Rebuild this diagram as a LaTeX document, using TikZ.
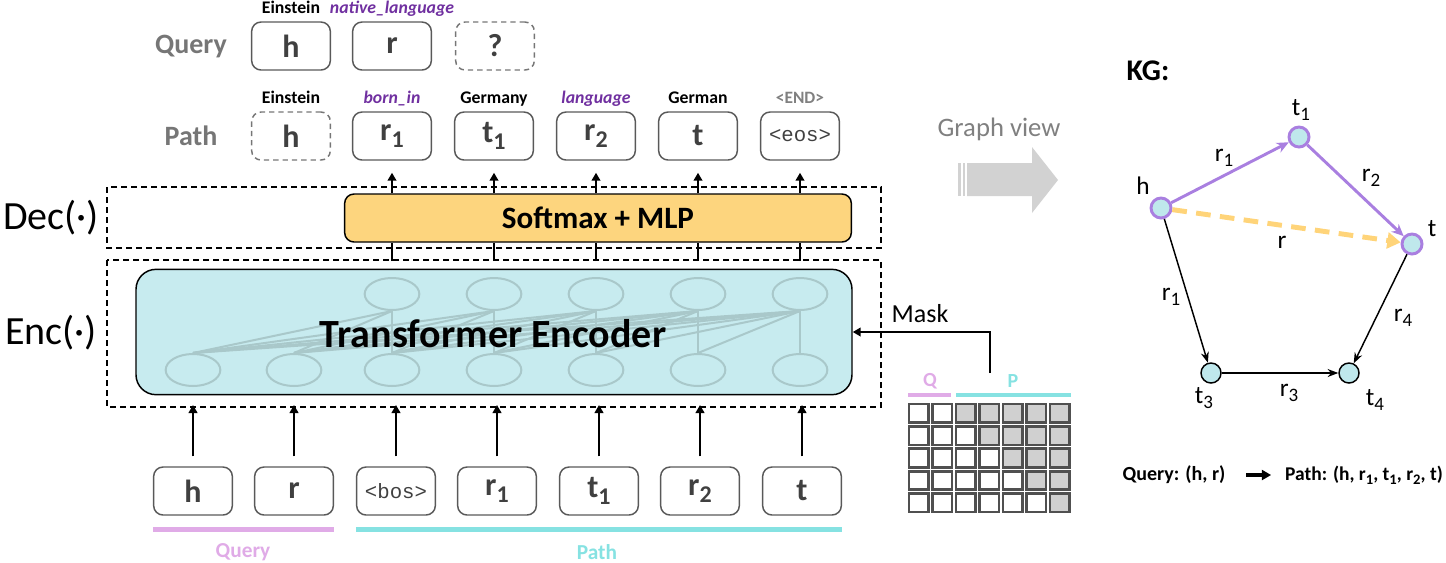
\documentclass[tikz,border=0pt]{standalone}
\usepackage{fontspec}
\setmainfont{Carlito}
\newfontfamily\codefont{Liberation Mono}
\usepackage{graphicx}
\usetikzlibrary{arrows.meta,shapes.geometric}

\definecolor{boxline}{HTML}{595959}
\definecolor{tokgray}{HTML}{404040}
\definecolor{lblgray}{HTML}{767676}
\definecolor{relpurple}{HTML}{7030A0}
\definecolor{softfill}{HTML}{FDD57E}
\definecolor{encfill}{HTML}{C7EBEF}
\definecolor{ellgray}{HTML}{A9C8CA}
\definecolor{qpink}{HTML}{E0ABE7}
\definecolor{pcyan}{HTML}{86E2E2}
\definecolor{cellgray}{HTML}{D0D0D0}
\definecolor{celledge}{HTML}{505050}
\definecolor{viewgray}{HTML}{D2D2D2}
\definecolor{viewtext}{HTML}{808080}
\definecolor{kgpurple}{HTML}{A97FE0}
\definecolor{kgorange}{HTML}{FFD479}
\definecolor{kgfill}{HTML}{BFE8EC}

\newcommand{\setfs}[1]{\fontsize{#1}{#1}\selectfont}
\newcommand{\lowidx}[1]{\raisebox{-0.45ex}{\scalebox{0.75}{#1}}}

\tikzset{
    tok/.style={draw=boxline, line width=1.1pt, rounded corners=7pt,
        minimum width=59pt, minimum height=36pt, inner sep=0pt,
        text=tokgray, font=\setfs{24}\bfseries},
    tokdash/.style={tok, draw=lblgray, dash pattern=on 4pt off 3pt},
    codetok/.style={tok, font=\setfs{15.5}\codefont},
    sidelbl/.style={text=lblgray, font=\setfs{21}\bfseries},
    ent/.style={anchor=base, font=\setfs{13.3}\bfseries},
    rel/.style={anchor=base, text=relpurple, font=\setfs{13.3}\bfseries\itshape},
    dashbox/.style={line width=1.1pt, dash pattern=on 4.5pt off 3pt},
    arr/.style={line width=2.2pt, -{Triangle[length=6pt,width=6.5pt]}},
    attn/.style={draw=ellgray, line width=1.5pt},
    unit/.style={ellipse, draw=ellgray, line width=1.5pt, minimum width=41pt,
        minimum height=24pt, inner sep=0pt},
    bar/.style={line width=3.5pt},
    cell/.style={draw=celledge, line width=2pt},
    kgnode/.style={circle, draw=black, line width=1.1pt, fill=kgfill,
        minimum size=15pt, inner sep=0pt},
    kgpathnode/.style={kgnode, draw=kgpurple, line width=2.2pt},
    kgtxt/.style={font=\setfs{19}},
    kgpath/.style={draw=kgpurple, line width=2.2pt, -{Stealth[length=9pt,width=8pt]}},
    kgedge/.style={line width=1.1pt, -{Stealth[length=8pt,width=6pt]}}
}

\begin{document}
\begin{tikzpicture}[x=0.75pt, y=-0.75pt]
\useasboundingbox (0,0) rectangle (1446,562);

% query and decoded path
\node[sidelbl] (qlabel) at (191,47) {Query};
\node[tok] (qh) at (291,46) {h};
\node[tok] (qr) at (392,46) {r};
\node[tokdash] (qt) at (495,46) {?};
\node[ent] (qhname) at (291,13) {Einstein};
\node[rel] (qrname) at (392,13) {native\_language};

\node[sidelbl] (plabel) at (191,136) {Path};
\node[tokdash] (p1) at (291,136) {h};
\node[tok] (p2) at (392,136) {r\lowidx{1}};
\node[tok] (p3) at (494,136) {t\lowidx{1}};
\node[tok] (p4) at (596,136) {r\lowidx{2}};
\node[tok] (p5) at (698,136) {t};
\node[codetok] (p6) at (800,136) {<eos>};
\node[ent] (n1) at (291,103) {Einstein};
\node[rel] (n2) at (392,103) {born\_in};
\node[ent] (n3) at (494,103) {Germany};
\node[rel] (n4) at (596,103) {language};
\node[ent] (n5) at (698,103) {German};
\node[ent, text=viewtext, font=\setfs{13}\bfseries] (n6) at (800,103) {<END>};

% decoder and encoder
\node[font=\setfs{30}] (declbl) at (51,218) {Dec(·)};
\node[font=\setfs{30}] (enclbl) at (51,333) {Enc(·)};
\draw[dashbox] (107,187) rectangle (881,248);
\draw[dashbox] (107,260) rectangle (881,407);
\coordinate (encT) at (0,261);
\coordinate (encS) at (0,405);

\node[draw, line width=1.1pt, fill=softfill, rounded corners=7pt, minimum width=380pt,
    minimum height=36pt, font=\setfs{23.3}\bfseries] (soft) at (598,218) {Softmax + MLP};
\node[draw, line width=1.1pt, fill=encfill, rounded corners=15pt, minimum width=537pt,
    minimum height=94pt] (enc) at (494,332) {};

\foreach \i/\x in {1/193,2/294,3/392,4/494,5/596,6/698,7/800}
    \node[unit] (d\i) at (\x,370) {};
\foreach \i/\x in {3/392,4/494,5/596,6/698,7/800}
    \node[unit] (u\i) at (\x,294) {};
\foreach \k in {3,...,7}
    \foreach \j in {1,...,\k}
        \draw[attn] (u\k.south) -- (d\j.north);
\node[font=\setfs{30}\bfseries] (enctxt) at (493,334) {Transformer Encoder};

\foreach \i in {2,...,6} {
    \draw[line width=2.2pt] (p\i.south |- encT) -- (p\i.south |- soft.south);
    \draw[arr] (p\i.south |- soft.north) -- ([yshift=-9pt]p\i.south);
}

% input tokens
\node[tok] (b1) at (193,491) {h};
\node[tok] (b2) at (294,491) {r};
\node[codetok] (b3) at (396,491) {<bos>};
\node[tok] (b4) at (497,491) {r\lowidx{1}};
\node[tok] (b5) at (599,491) {t\lowidx{1}};
\node[tok] (b6) at (700,491) {r\lowidx{2}};
\node[tok] (b7) at (802,491) {t};
\foreach \i in {1,...,7}
    \draw[arr] ([yshift=7.5pt]b\i.north) -- (b\i.north |- encS);

\draw[bar, qpink] ([yshift=-10.5pt]b1.south west) -- ([yshift=-10.5pt]b2.south east);
\draw[bar, pcyan] ([yshift=-10.5pt]b3.south west) -- ([yshift=-10.5pt]b7.south east);
\node[font=\setfs{16}\bfseries, text=qpink] (qname) at (243,552) {Query};
\node[font=\setfs{16}\bfseries, text=pcyan] (pname) at (597,552) {Path};

% mask
\foreach \r in {0,...,4}
    \foreach \c in {0,...,6} {
        \ifnum\c>\numexpr\r+1\relax \def\cellfill{cellgray}\else \def\cellfill{white}\fi
        \draw[cell, fill=\cellfill] (909+23.5*\c,404+22.4*\r) rectangle ++(19.5,18.5);
    }
\draw[qpink, line width=3pt] (908,395) -- (951,395);
\draw[pcyan, line width=3pt] (956,395) -- (1071,395);
\node[font=\setfs{15}\bfseries, text=qpink] (mq) at (930,381) {Q};
\node[font=\setfs{15}\bfseries, text=pcyan] (mp) at (1013,381) {P};
\coordinate (maskin) at (990,373);
\draw[line width=1.7pt, -{Triangle[length=6pt,width=6.5pt]}] (maskin) |- (enc.east);
\node[font=\setfs{19.5}] (masktxt) at (920,314) {Mask};

% graph view arrow
\node[font=\setfs{20}, text=viewtext] (viewtxt) at (999,129) {Graph view};
\fill[viewgray] (958,163) rectangle (960.5,196);
\fill[viewgray] (962.5,163) rectangle (965,196);
\fill[viewgray] (967,163) -- (1032,163) -- (1032,147) -- (1058,180) -- (1032,213)
    -- (1032,196) -- (967,196) -- cycle;

% knowledge graph
\node[font=\setfs{22.5}\bfseries] (kgtitle) at (1148,71) {KG:};
\node[kgpathnode] (h) at (1161,208) {};
\node[kgpathnode] (t1) at (1299,137) {};
\node[kgpathnode] (t) at (1412,244) {};
\node[kgnode] (t3) at (1211,373) {};
\node[kgnode] (t4) at (1349,373) {};

\draw[kgpath] (h) -- (t1);
\draw[kgpath] (t1) -- (t);
\draw[kgorange, line width=3.7pt, dash pattern=on 11pt off 7pt,
    -{Triangle[length=10pt,width=12pt]}] (h) -- (t);
\draw[kgedge] (h) -- (t3);
\draw[kgedge] (t) -- (t4);
\draw[kgedge] (t3) -- (t4);

\node[kgtxt] (lh) at (1143,186) {h};
\node[kgtxt] (lt1) at (1301,110) {t\lowidx{1}};
\node[kgtxt] (lt) at (1432,229) {t};
\node[kgtxt] (lt3) at (1204,398) {t\lowidx{3}};
\node[kgtxt] (lt4) at (1375,400) {t\lowidx{4}};
\node[kgtxt] (lr1) at (1224,158) {r\lowidx{1}};
\node[kgtxt] (lr2) at (1371,178) {r\lowidx{2}};
\node[kgtxt] (lr) at (1282,242) {r};
\node[kgtxt] (lr1b) at (1171,297) {r\lowidx{1}};
\node[kgtxt] (lr4) at (1403,318) {r\lowidx{4}};
\node[kgtxt] (lr3) at (1289,393) {r\lowidx{3}};

\node[font=\setfs{15}\bfseries] (kq) at (1174,475) {Query: (h, r)};
\node[font=\setfs{14.6}\bfseries] (kp) at (1364,475) {Path: (h, r\lowidx{1}, t\lowidx{1}, r\lowidx{2}, t)};
\draw[line width=2.6pt, -{Triangle[length=7pt,width=7.5pt]}, shorten <=12pt, shorten >=7pt] (kq) -- (kp);
\end{tikzpicture}
\end{document}
